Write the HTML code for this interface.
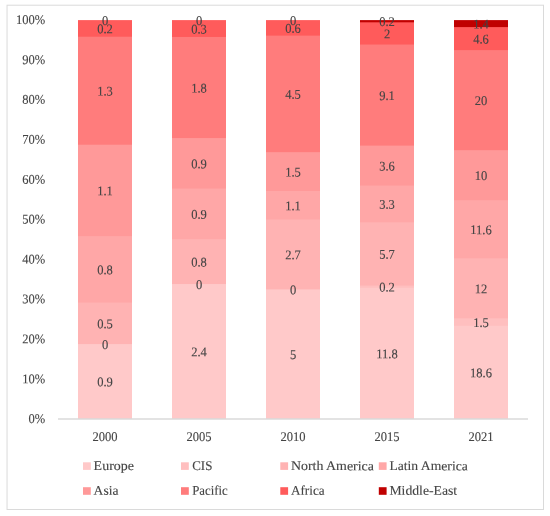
<!DOCTYPE html>
<html><head><meta charset="utf-8"><title>Chart</title>
<style>
html,body{margin:0;padding:0;background:#fff;}
svg{display:block;}
svg text{font-family:"Liberation Serif","DejaVu Serif",serif;font-size:13.3px;fill:#444444;stroke:#444444;stroke-width:0.12px;}
</style></head><body>
<svg width="550" height="516" viewBox="0 0 550 516">
<rect x="7.05" y="5.2" width="536.45" height="504.3" fill="#fff" stroke="#DADADA" stroke-width="1"/>
<rect x="78.00" y="20.10" width="54.00" height="398.75" fill="#FF5B5B"/>
<rect x="78.00" y="36.71" width="54.00" height="382.14" fill="#FF7C7C"/>
<rect x="78.00" y="144.71" width="54.00" height="274.14" fill="#FF9999"/>
<rect x="78.00" y="236.09" width="54.00" height="182.76" fill="#FFA7A7"/>
<rect x="78.00" y="302.55" width="54.00" height="116.30" fill="#FFB3B3"/>
<rect x="78.00" y="344.08" width="54.00" height="74.77" fill="#FFC9C9"/>
<rect x="172.00" y="20.10" width="54.00" height="398.75" fill="#FF5B5B"/>
<rect x="172.00" y="36.95" width="54.00" height="381.90" fill="#FF7C7C"/>
<rect x="172.00" y="138.04" width="54.00" height="280.81" fill="#FF9999"/>
<rect x="172.00" y="188.59" width="54.00" height="230.26" fill="#FFA7A7"/>
<rect x="172.00" y="239.13" width="54.00" height="179.72" fill="#FFB3B3"/>
<rect x="172.00" y="284.06" width="54.00" height="134.79" fill="#FFC9C9"/>
<rect x="266.00" y="20.10" width="54.00" height="398.75" fill="#FF5B5B"/>
<rect x="266.00" y="35.64" width="54.00" height="383.21" fill="#FF7C7C"/>
<rect x="266.00" y="152.15" width="54.00" height="266.70" fill="#FF9999"/>
<rect x="266.00" y="190.99" width="54.00" height="227.86" fill="#FFA7A7"/>
<rect x="266.00" y="219.48" width="54.00" height="199.38" fill="#FFB3B3"/>
<rect x="266.00" y="289.39" width="54.00" height="129.46" fill="#FFC9C9"/>
<rect x="360.00" y="20.10" width="54.00" height="398.75" fill="#C00000"/>
<rect x="360.00" y="22.32" width="54.00" height="396.53" fill="#FF5B5B"/>
<rect x="360.00" y="44.54" width="54.00" height="374.31" fill="#FF7C7C"/>
<rect x="360.00" y="145.61" width="54.00" height="273.24" fill="#FF9999"/>
<rect x="360.00" y="185.60" width="54.00" height="233.25" fill="#FFA7A7"/>
<rect x="360.00" y="222.25" width="54.00" height="196.60" fill="#FFB3B3"/>
<rect x="360.00" y="285.56" width="54.00" height="133.29" fill="#FFBFBF"/>
<rect x="360.00" y="287.78" width="54.00" height="131.07" fill="#FFC9C9"/>
<rect x="454.00" y="20.10" width="54.00" height="398.75" fill="#C00000"/>
<rect x="454.00" y="27.10" width="54.00" height="391.75" fill="#FF5B5B"/>
<rect x="454.00" y="50.12" width="54.00" height="368.73" fill="#FF7C7C"/>
<rect x="454.00" y="150.18" width="54.00" height="268.67" fill="#FF9999"/>
<rect x="454.00" y="200.21" width="54.00" height="218.64" fill="#FFA7A7"/>
<rect x="454.00" y="258.25" width="54.00" height="160.60" fill="#FFB3B3"/>
<rect x="454.00" y="318.29" width="54.00" height="100.56" fill="#FFBFBF"/>
<rect x="454.00" y="325.79" width="54.00" height="93.06" fill="#FFC9C9"/>
<line x1="58" y1="419" x2="528" y2="419" stroke="#DADADA" stroke-width="1.5"/>
<text transform="translate(105.00,386.37) rotate(0.03) scale(0.942,1)" text-anchor="middle">0.9</text>
<text transform="translate(105.00,348.98) rotate(0.03) scale(0.942,1)" text-anchor="middle">0</text>
<text transform="translate(105.00,328.22) rotate(0.03) scale(0.942,1)" text-anchor="middle">0.5</text>
<text transform="translate(105.00,274.22) rotate(0.03) scale(0.942,1)" text-anchor="middle">0.8</text>
<text transform="translate(105.00,195.30) rotate(0.03) scale(0.942,1)" text-anchor="middle">1.1</text>
<text transform="translate(105.00,95.61) rotate(0.03) scale(0.942,1)" text-anchor="middle">1.3</text>
<text transform="translate(105.00,33.31) rotate(0.03) scale(0.942,1)" text-anchor="middle">0.2</text>
<text transform="translate(105.00,25.00) rotate(0.03) scale(0.942,1)" text-anchor="middle">0</text>
<text transform="translate(199.00,356.36) rotate(0.03) scale(0.942,1)" text-anchor="middle">2.4</text>
<text transform="translate(199.00,288.96) rotate(0.03) scale(0.942,1)" text-anchor="middle">0</text>
<text transform="translate(199.00,266.50) rotate(0.03) scale(0.942,1)" text-anchor="middle">0.8</text>
<text transform="translate(199.00,218.76) rotate(0.03) scale(0.942,1)" text-anchor="middle">0.9</text>
<text transform="translate(199.00,168.21) rotate(0.03) scale(0.942,1)" text-anchor="middle">0.9</text>
<text transform="translate(199.00,92.39) rotate(0.03) scale(0.942,1)" text-anchor="middle">1.8</text>
<text transform="translate(199.00,33.42) rotate(0.03) scale(0.942,1)" text-anchor="middle">0.3</text>
<text transform="translate(199.00,25.00) rotate(0.03) scale(0.942,1)" text-anchor="middle">0</text>
<text transform="translate(293.00,359.02) rotate(0.03) scale(0.942,1)" text-anchor="middle">5</text>
<text transform="translate(293.00,294.29) rotate(0.03) scale(0.942,1)" text-anchor="middle">0</text>
<text transform="translate(293.00,259.33) rotate(0.03) scale(0.942,1)" text-anchor="middle">2.7</text>
<text transform="translate(293.00,210.13) rotate(0.03) scale(0.942,1)" text-anchor="middle">1.1</text>
<text transform="translate(293.00,176.47) rotate(0.03) scale(0.942,1)" text-anchor="middle">1.5</text>
<text transform="translate(293.00,98.79) rotate(0.03) scale(0.942,1)" text-anchor="middle">4.5</text>
<text transform="translate(293.00,32.77) rotate(0.03) scale(0.942,1)" text-anchor="middle">0.6</text>
<text transform="translate(293.00,25.00) rotate(0.03) scale(0.942,1)" text-anchor="middle">0</text>
<text transform="translate(387.00,358.22) rotate(0.03) scale(0.942,1)" text-anchor="middle">11.8</text>
<text transform="translate(387.00,291.57) rotate(0.03) scale(0.942,1)" text-anchor="middle">0.2</text>
<text transform="translate(387.00,258.81) rotate(0.03) scale(0.942,1)" text-anchor="middle">5.7</text>
<text transform="translate(387.00,208.82) rotate(0.03) scale(0.942,1)" text-anchor="middle">3.3</text>
<text transform="translate(387.00,170.50) rotate(0.03) scale(0.942,1)" text-anchor="middle">3.6</text>
<text transform="translate(387.00,99.97) rotate(0.03) scale(0.942,1)" text-anchor="middle">9.1</text>
<text transform="translate(387.00,38.33) rotate(0.03) scale(0.942,1)" text-anchor="middle">2</text>
<text transform="translate(387.00,26.11) rotate(0.03) scale(0.942,1)" text-anchor="middle">0.2</text>
<text transform="translate(481.00,377.22) rotate(0.03) scale(0.942,1)" text-anchor="middle">18.6</text>
<text transform="translate(481.00,326.94) rotate(0.03) scale(0.942,1)" text-anchor="middle">1.5</text>
<text transform="translate(481.00,293.17) rotate(0.03) scale(0.942,1)" text-anchor="middle">12</text>
<text transform="translate(481.00,234.13) rotate(0.03) scale(0.942,1)" text-anchor="middle">11.6</text>
<text transform="translate(481.00,180.10) rotate(0.03) scale(0.942,1)" text-anchor="middle">10</text>
<text transform="translate(481.00,105.05) rotate(0.03) scale(0.942,1)" text-anchor="middle">20</text>
<text transform="translate(481.00,43.51) rotate(0.03) scale(0.942,1)" text-anchor="middle">4.6</text>
<text transform="translate(481.00,28.50) rotate(0.03) scale(0.942,1)" text-anchor="middle">1.4</text>
<text transform="translate(45.20,423.05) rotate(0.03) scale(0.942,1)" text-anchor="end">0%</text>
<text transform="translate(45.20,383.15) rotate(0.03) scale(0.942,1)" text-anchor="end">10%</text>
<text transform="translate(45.20,343.25) rotate(0.03) scale(0.942,1)" text-anchor="end">20%</text>
<text transform="translate(45.20,303.35) rotate(0.03) scale(0.942,1)" text-anchor="end">30%</text>
<text transform="translate(45.20,263.45) rotate(0.03) scale(0.942,1)" text-anchor="end">40%</text>
<text transform="translate(45.20,223.55) rotate(0.03) scale(0.942,1)" text-anchor="end">50%</text>
<text transform="translate(45.20,183.65) rotate(0.03) scale(0.942,1)" text-anchor="end">60%</text>
<text transform="translate(45.20,143.75) rotate(0.03) scale(0.942,1)" text-anchor="end">70%</text>
<text transform="translate(45.20,103.85) rotate(0.03) scale(0.942,1)" text-anchor="end">80%</text>
<text transform="translate(45.20,63.95) rotate(0.03) scale(0.942,1)" text-anchor="end">90%</text>
<text transform="translate(45.20,24.05) rotate(0.03) scale(0.942,1)" text-anchor="end">100%</text>
<text transform="translate(105.00,441.00) rotate(0.03) scale(0.942,1)" text-anchor="middle">2000</text>
<text transform="translate(199.00,441.00) rotate(0.03) scale(0.942,1)" text-anchor="middle">2005</text>
<text transform="translate(293.00,441.00) rotate(0.03) scale(0.942,1)" text-anchor="middle">2010</text>
<text transform="translate(387.00,441.00) rotate(0.03) scale(0.942,1)" text-anchor="middle">2015</text>
<text transform="translate(481.00,441.00) rotate(0.03) scale(0.942,1)" text-anchor="middle">2021</text>
<rect x="83.0" y="462.3" width="7.8" height="7.6" fill="#FFC9C9"/>
<text transform="translate(93.6,470.1) rotate(0.03)" textLength="40.4" lengthAdjust="spacingAndGlyphs">Europe</text>
<rect x="181.0" y="462.3" width="7.8" height="7.6" fill="#FFBFBF"/>
<text transform="translate(192.2,470.1) rotate(0.03)" textLength="20.2" lengthAdjust="spacingAndGlyphs">CIS</text>
<rect x="280.3" y="462.3" width="7.8" height="7.6" fill="#FFB3B3"/>
<text transform="translate(290.9,470.1) rotate(0.03)" textLength="83.0" lengthAdjust="spacingAndGlyphs">North America</text>
<rect x="378.8" y="462.3" width="7.8" height="7.6" fill="#FFA7A7"/>
<text transform="translate(389.4,470.1) rotate(0.03)" textLength="78.4" lengthAdjust="spacingAndGlyphs">Latin America</text>
<rect x="83.0" y="487.2" width="7.8" height="7.6" fill="#FF9999"/>
<text transform="translate(93.6,494.8) rotate(0.03)" textLength="24.9" lengthAdjust="spacingAndGlyphs">Asia</text>
<rect x="181.0" y="487.2" width="7.8" height="7.6" fill="#FF7C7C"/>
<text transform="translate(192.2,494.8) rotate(0.03)" textLength="35.5" lengthAdjust="spacingAndGlyphs">Pacific</text>
<rect x="280.3" y="487.2" width="7.8" height="7.6" fill="#FF5B5B"/>
<text transform="translate(290.9,494.8) rotate(0.03)" textLength="33.7" lengthAdjust="spacingAndGlyphs">Africa</text>
<rect x="378.8" y="487.2" width="7.8" height="7.6" fill="#C00000"/>
<text transform="translate(389.4,494.8) rotate(0.03)" textLength="67.7" lengthAdjust="spacingAndGlyphs">Middle-East</text>
</svg>
</body></html>
